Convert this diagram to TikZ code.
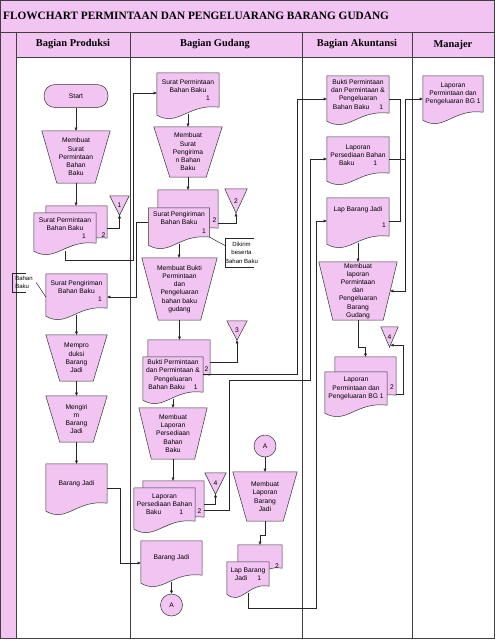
\documentclass[tikz,border=0pt]{standalone}
\usepackage{fontspec}
\setmainfont{Liberation Sans}
\newfontfamily\headfont{Liberation Serif}
\usetikzlibrary{arrows.meta,calc,backgrounds}
\definecolor{lilac}{RGB}{242,196,242}

\newcommand{\docpath}[1]{%
	\begin{pgfonlayer}{background}
		\path[shape line] (#1.north west) -- (#1.north east) -- (#1.south east)
			.. controls ($(#1.south east)!0.5!(#1.south west)+(0,-4)$) and ($(#1.south east)!0.65!(#1.south west)+(0,20)$) .. ($(#1.south west)+(0,8)$) -- cycle;
	\end{pgfonlayer}}
\newcommand{\manpath}[2]{%
	\begin{pgfonlayer}{background}
		\path[shape line] (#1.north west) -- (#1.north east) -- ($(#1.south east)+(-#2,0)$) -- ($(#1.south west)+(#2,0)$) -- cycle;
	\end{pgfonlayer}}
\newcommand{\filepath}[1]{%
	\begin{pgfonlayer}{background}
		\path[shape line] (#1.north west) -- (#1.north east) -- (#1.south) -- cycle;
	\end{pgfonlayer}}

\begin{document}
\begin{tikzpicture}[x=1pt, y=-1pt,
	shape line/.style={draw=black!80, line width=0.5pt, fill=lilac},
	box/.style={inner sep=0pt, align=center, font=\fontsize{6.7}{8.2}\selectfont},
	num/.style={inner sep=0pt, font=\fontsize{6.7}{8.2}\selectfont},
	note/.style={box, align=left, font=\fontsize{6}{8.6}\selectfont},
	term/.style={box, shape line, rounded corners=11pt, minimum width=64, minimum height=23},
	conn/.style={box, circle, shape line, minimum size=22},
	arr/.style={draw=black!85, line width=0.5pt, -{Triangle[length=3.2pt,width=2.8pt]}},
	link/.style={draw=black!85, line width=0.5pt},
	lane/.style={draw=black!75, line width=0.8pt},
	head/.style={font=\headfont\bfseries\fontsize{10.4}{12}\selectfont}]
	\useasboundingbox (0,0) rectangle (495,640);
	\begin{pgfonlayer}{background}
		\fill[white] (0,0) rectangle (495,640);
		\fill[lilac] (0,0) rectangle (495,57);
		\fill[lilac] (0,32) rectangle (16,638);
	\end{pgfonlayer}
	\draw[lane] (0.4,0.4) rectangle (494.6,638);
	\draw[lane] (0,32) -- (495,32);
	\draw[lane] (16,57) -- (495,57);
	\foreach \x in {16,130,302,412}
		\draw[lane] (\x,32) -- (\x,638);
	\node[anchor=west, inner sep=0pt, font=\headfont\bfseries\fontsize{11.3}{13}\selectfont] (title) at (3,16) {FLOWCHART PERMINTAAN DAN PENGELUARANG BARANG GUDANG};
	\foreach \n/\x/\t in {prod/73/Bagian Produksi, gud/215/Bagian Gudang, akt/357/Bagian Akuntansi, mgr/453/Manajer}
		\node[head] (\n) at (\x,44.5) {\t};

	\node[term] (start) at (76,96) {Start};
	\node[box, minimum width=68, minimum height=52] (mkSpp) at (76,157) {Membuat\\Surat\\Permintaan\\Bahan\\Baku};
	\manpath{mkSpp}{15}
	\node[box, minimum width=61, minimum height=32] (sppP2) at (76.5,222) {};
	\docpath{sppP2}
	\node[num] (sppP2n) at (103.5,235) {2};
	\node[box, minimum width=62, minimum height=30] (sppP) at (65,228) {Surat Permintaan\\Bahan Baku\\\hspace*{38pt}1};
	\docpath{sppP}
	\node[box, minimum width=19, minimum height=19] (tri1) at (119.5,205.5) {1};
	\filepath{tri1}
	\node[box, minimum width=61, minimum height=34] (sgP) at (76.5,291) {Surat Pengiriman\\Bahan Baku\\\hspace*{47pt}1};
	\docpath{sgP}
	\node[note, minimum width=24, minimum height=19] (bbAnn) at (24,282.5) {Bahan\\Baku};
	\draw[link] ($(bbAnn.north west)+(14,0)$) -- (bbAnn.north west) -- (bbAnn.south west) -- ++(14,0);
	\node[box, minimum width=61, minimum height=46] (mkBj) at (76.5,358) {Mempro\\duksi\\Barang\\Jadi};
	\manpath{mkBj}{14}
	\node[box, minimum width=61, minimum height=46] (kirim) at (76.5,419) {Mengiri\\m\\Barang\\Jadi};
	\manpath{kirim}{14}
	\node[box, minimum width=61, minimum height=39] (bjP) at (76.5,483.5) {Barang Jadi};
	\docpath{bjP}

	\node[box, minimum width=62, minimum height=34] (sppG) at (188,90) {Surat Permintaan\\Bahan Baku\\\hspace*{40pt}1};
	\docpath{sppG}
	\node[box, minimum width=68, minimum height=50] (mkSpg) at (188,152) {Membuat\\Surat\\Pengirima\\n Bahan\\Baku};
	\manpath{mkSpg}{16}
	\node[box, minimum width=60, minimum height=38] (spgG2) at (188,209) {};
	\docpath{spgG2}
	\node[num] (spgG2n) at (214.5,220) {2};
	\node[box, minimum width=61, minimum height=29] (spgG) at (179,222.5) {Surat Pengiriman\\Bahan Baku\\\hspace*{50pt}1};
	\docpath{spgG}
	\node[box, minimum width=22, minimum height=24] (tri2) at (236,201) {2};
	\filepath{tri2}
	\node[note, align=center, minimum width=29, minimum height=29] (dkAnn) at (241.5,252.5) {Dikirim\\beserta\\Bahan Baku};
	\draw[link] ($(dkAnn.north west)+(29,0)$) -- (dkAnn.north west) -- (dkAnn.south west) -- ++(29,0);
	\draw[link] ($(dkAnn.west)+(0,-7)$) -- (spgG.south east);
	\node[box, minimum width=75, minimum height=62] (mkBukti) at (179.5,289) {Membuat Bukti\\Permintaan\\dan\\Pengeluaran\\bahan baku\\gudang};
	\manpath{mkBukti}{16.5}
	\node[box, minimum width=62, minimum height=35] (bkG2) at (179,357.5) {};
	\docpath{bkG2}
	\node[num] (bkG2n) at (206.5,369) {2};
	\node[box, minimum width=60, minimum height=35] (bkG) at (173,374.5) {Bukti Permintaan\\dan Permintaan \&\\Pengeluaran\\Bahan Baku\hspace{9pt}1};
	\docpath{bkG}
	\node[box, minimum width=20, minimum height=19] (tri3) at (237,330.5) {3};
	\filepath{tri3}
	\node[box, minimum width=68, minimum height=51] (mkLps) at (173,433.5) {Membuat\\Laporan\\Persediaan\\Bahan\\Baku};
	\manpath{mkLps}{12.5}
	\node[box, minimum width=61, minimum height=36] (lpG2) at (173.5,499) {};
	\docpath{lpG2}
	\node[num] (lpG2n) at (199.5,511) {2};
	\node[box, minimum width=61, minimum height=33] (lpG) at (164.5,504.5) {Laporan\\Persediaan Bahan\\Baku\hspace{18pt}1};
	\docpath{lpG}
	\node[box, minimum width=21, minimum height=21] (tri4G) at (215.5,483.5) {4};
	\filepath{tri4G}
	\node[box, minimum width=61, minimum height=34] (bjG) at (171.5,558) {Barang Jadi};
	\docpath{bjG}
	\node[conn] (a1) at (171.5,605) {A};
	\node[conn] (a2) at (265,446) {A};
	\node[box, minimum width=64, minimum height=49] (mkLbj) at (265,496.5) {Membuat\\Laporan\\Barang\\Jadi};
	\manpath{mkLbj}{14}
	\node[box, minimum width=44, minimum height=23] (lbjG2) at (260,556.5) {};
	\docpath{lbjG2}
	\node[num] (lbjG2n) at (277,566) {2};
	\node[box, minimum width=42, minimum height=24] (lbjG) at (248,574) {Lap Barang\\Jadi\hspace{10pt}1};
	\docpath{lbjG}

	\node[box, minimum width=62, minimum height=37] (bkA) at (358,94.5) {Bukti Permintaan\\dan Permintaan \&\\Pengeluaran\\Bahan Baku\hspace{10pt}1};
	\docpath{bkA}
	\node[box, minimum width=62, minimum height=36] (lpA) at (358,155) {Laporan\\Persediaan Bahan\\Baku\hspace{19pt}1};
	\docpath{lpA}
	\node[box, minimum width=62, minimum height=38] (lbjA) at (358,217) {Lap Barang Jadi\\[7pt]\hspace*{52pt}1};
	\docpath{lbjA}
	\node[box, minimum width=78, minimum height=58] (mkLpp) at (358,291) {Membuat\\laporan\\Permintaan\\dan\\Pengeluaran\\Barang\\Gudang};
	\manpath{mkLpp}{14}
	\node[box, minimum width=61, minimum height=38] (lppA2) at (365.5,376) {};
	\docpath{lppA2}
	\node[num] (lppA2n) at (392,387) {2};
	\node[box, minimum width=62, minimum height=33] (lppA) at (356,388.5) {Laporan\\Permintaan dan\\Pengeluaran BG 1};
	\docpath{lppA}
	\node[box, minimum width=17, minimum height=20] (tri4A) at (389.5,337) {4};
	\filepath{tri4A}

	\node[box, minimum width=60, minimum height=36] (lppM) at (453,94) {Laporan\\Permintaan dan\\Pengeluaran BG 1};
	\docpath{lppM}

	\draw[arr] (start) -- (mkSpp);
	\draw[arr] (mkSpp.south) -- (mkSpp.south |- sppP2.north);
	\draw[arr] ($(sppP2.east)+(0,6)$) -| (tri1.south);
	\draw[arr] ($(sppP.south)+(0,8)$) |- (133,260) |- ($(sppG.west)+(0,3)$);
	\draw[link] (bbAnn.east) -- ($(sgP.west)+(0,6)$);
	\draw[arr] ($(sgP.south)+(0,7)$) -- (mkBj.north);
	\draw[arr] (mkBj) -- (kirim);
	\draw[arr] (kirim) -- (bjP);
	\draw[arr] ($(bjP.east)+(0,4.5)$) -- ++(13,0) |- ($(bjG.west)+(0,5)$);
	\draw[arr] ($(sppG.south)+(0,7)$) -- (mkSpg.north);
	\draw[arr] (mkSpg) -- (spgG2);
	\draw[arr] ($(spgG2.east)+(0,14)$) -| (tri2.south);
	\draw[arr] (spgG.west) -- ++(-12,0) |- ($(sgP.east)+(0,6)$);
	\draw[arr] ($(spgG.south)+(0,7)$) -- (spgG.south |- mkBukti.north);
	\draw[arr] (mkBukti.south) -- (mkBukti.south |- bkG2.north);
	\draw[arr] ($(bkG2.east)+(0,4.5)$) -| (tri3.south);
	\draw[arr] (bkG.east) -- (297,374.5) |- ($(bkA.west)+(0,4.5)$);
	\draw[arr] ($(bkG.south)+(0,7)$) -- (mkLps.north);
	\draw[arr] (mkLps.south) -- (mkLps.south |- lpG2.north);
	\draw[arr] ($(lpG2.east)+(0,5)$) -| (tri4G.south);
	\draw[arr] ($(lpG2.east)+(0,11)$) -- (229,510) |- (310,380) |- ($(lpA.west)+(0,4)$);
	\draw[arr] ($(bjG.south)+(0,7)$) -- (a1.north);
	\draw[arr] (a2) -- (mkLbj);
	\draw[arr] (mkLbj.south) -- ++(0,14) -| (lbjG2.north);
	\draw[arr] ($(lbjG.south)+(0,7)$) |- (316,608) |- ($(lbjA.west)+(0,4)$);
	\draw[link] ($(bkA.east)+(0,4.5)$) -- ++(11,0) |- ($(lbjA.east)+(0,4)$);
	\draw[arr] ($(lpA.east)+(0,4)$) -- ++(16,0) |- ($(mkLpp.east)+(-7,0)$);
	\draw[arr] ($(lpA.east)+(16,4)$) |- ($(lppM.west)+(0,5)$);
	\draw[arr] ($(lbjA.south)+(0,7)$) -- (mkLpp.north);
	\draw[arr] (mkLpp.south) -- ++(0,27) -| (lppA2.north);
	\draw[arr] ($(lppA2.east)+(0,18)$) -- ++(7,0) |- ($(tri4A.south)+(1,-2)$);
\end{tikzpicture}
\end{document}
